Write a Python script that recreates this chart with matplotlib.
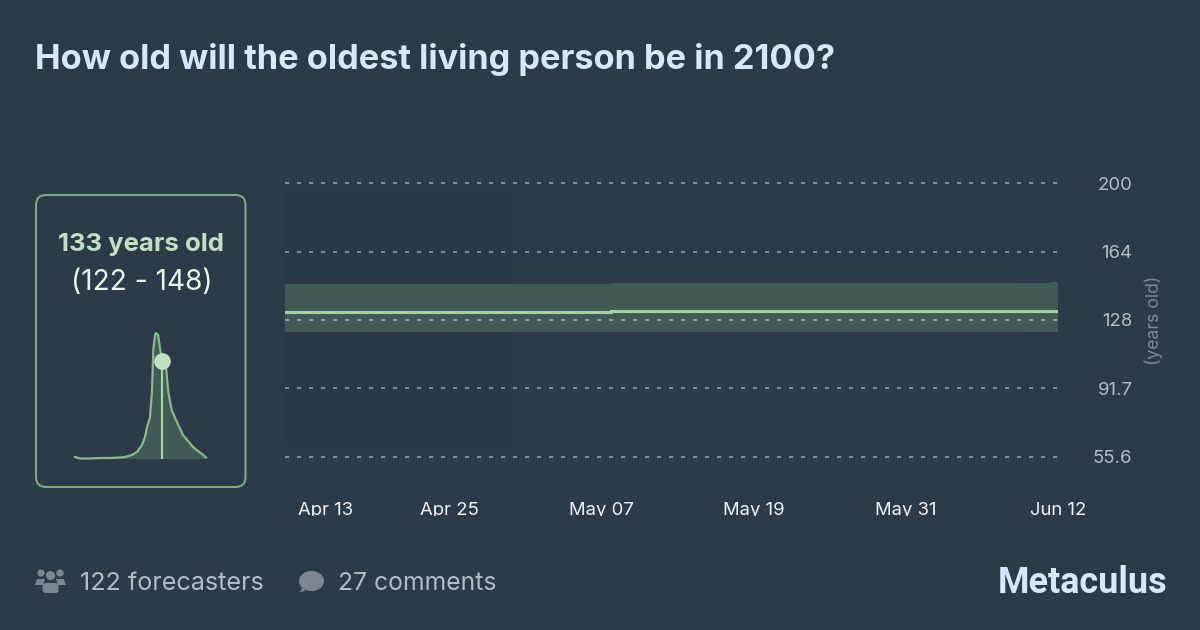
import matplotlib
matplotlib.use("Agg")
import matplotlib.pyplot as plt
from matplotlib.patches import FancyBboxPatch, Circle, Ellipse, Polygon
from matplotlib.transforms import Bbox, ScaledTranslation
from datetime import datetime

title = "How old will the oldest living person be in 2100?"
point_label = "133 years old"
range_label = "(122 - 148)"
forecasters = "122 forecasters"
comments = "27 comments"
brand = "Metaculus"
y_unit = "(years old)"

step_dates = ["2024-04-12 00:00", "2024-05-07 18:00", "2024-06-11 10:00", "2024-06-12 00:00"]
median = [131.9, 132.4, 132.4, 132.4]
lower = [121.3, 121.6, 121.6, 121.6]
upper = [147.0, 147.5, 148.1, 148.1]
tick_dates = ["2024-04-13", "2024-04-25", "2024-05-07", "2024-05-19", "2024-05-31", "2024-06-12"]
tick_names = ["Apr 13", "Apr 25", "May 07", "May 19", "May 31", "Jun 12"]
y_ticks = [55.6, 91.7, 127.8, 163.9, 200]
y_names = ["55.6", "91.7", "128", "164", "200"]

dens_pos = [0, .038, .115, .191, .267, .344, .382, .435, .473, .511, .534, .55, .573, .588, .598,
            .611, .618, .634, .654, .672, .695, .713, .738, .771, .824, .863, .901, .939, .969, 1.0]
dens_val = [2, .5, .5, 1, 1, 1.5, 2, 4, 7, 14, 22, 32, 42, 69, 109,
            124, 126, 124, 106, 98, 92, 66, 49, 39, 24, 18, 12, 8, 5, 1.5]
point_pos = 0.664
point_val = 98.0

BG = "#2d3a48"
BAND = "#415a55"
LINE = "#a5d2a5"
LINE_D = "#8cb78f"
LIGHT = "#d7e8fa"
MINT = "#c3dfc3"
GREY = "#b4bbc2"

W, H = 1200, 630
plt.rcParams["font.family"] = ["Inter", "Noto Sans", "DejaVu Sans"]
fig = plt.figure(figsize=(W / 100, H / 100), dpi=100, facecolor=BG)

def px(x0, y0, x1, y1):
    return [x0 / W, 1 - y1 / H, (x1 - x0) / W, (y1 - y0) / H]

def fs(p):
    return p * 0.72

ov = fig.add_axes([0, 0, 1, 1], zorder=0)
ov.set_xlim(0, W)
ov.set_ylim(H, 0)
ov.axis("off")

ov.text(35, 59, title, fontsize=fs(34.3), fontweight="bold", color=LIGHT, va="center", ha="left")

ov.add_patch(FancyBboxPatch((36, 195), 209.5, 292, boxstyle="round,pad=0,rounding_size=10",
                            fc="none", ec="#7fa886", lw=1.5))
ov.text(141, 244, point_label, fontsize=fs(25.7), fontweight="bold", color=MINT, ha="center", va="center")
ov.text(141.5, 282, range_label, fontsize=fs(28), color="#e9f5ea", ha="center", va="center")

ov.text(80, 583, forecasters, fontsize=fs(25.2), color=GREY, ha="left", va="center")
ov.text(338, 583, comments, fontsize=fs(24.7), color=GREY, ha="left", va="center")
ov.text(1167, 583, brand, fontsize=fs(36), fontweight="bold", color=LIGHT, ha="right", va="center",
        family=["Roboto", "DejaVu Sans"])
IC = "#7d868f"
for cx, cy, r in [(41, 573, 3.6), (60, 573, 3.6), (50.5, 575.5, 4.6)]:
    ov.add_patch(Circle((cx, cy), r, fc=IC, ec="none"))
ov.add_patch(Polygon([(35, 585), (37, 579), (45, 579), (43, 585)], fc=IC, ec="none"))
ov.add_patch(Polygon([(66, 585), (64, 579), (56, 579), (58, 585)], fc=IC, ec="none"))
ov.add_patch(FancyBboxPatch((42.5, 583), 16, 10, boxstyle="round,pad=0,rounding_size=3", fc=IC, ec="none"))
ov.add_patch(Ellipse((311.5, 581), 25, 20, fc=IC, ec="none"))
ov.add_patch(Polygon([(303, 586), (305, 591), (299, 592.5), (302, 589)], fc=IC, ec="none"))

ax = fig.add_axes(px(285, 180, 1058, 460), zorder=1)
ax.set_facecolor("none")
dates = [datetime.strptime(d, "%Y-%m-%d %H:%M") for d in step_dates]
ticks = [datetime.strptime(d, "%Y-%m-%d") for d in tick_dates]
ax.set_xlim(datetime(2024, 4, 12), datetime(2024, 6, 12))
ax.set_ylim(53.75, 201.85)
for s in ax.spines.values():
    s.set_visible(False)

ax.axvspan(datetime(2024, 4, 12), datetime(2024, 4, 29, 18), ymin=0.05, ymax=0.965, fc="#2b384a", ec="none", zorder=0)
ax.axvspan(datetime(2024, 4, 29, 18), datetime(2024, 6, 12), ymin=0.70, ymax=0.965, fc="#2c3949", ec="none", zorder=0)
ax.axvspan(datetime(2024, 6, 8, 18), datetime(2024, 6, 12), ymin=0.05, ymax=0.70, fc="#2c3949", ec="none", zorder=0)

ax.fill_between(dates, lower, upper, step="post", fc=BAND, ec="none", zorder=2)
ax.set_yticks(y_ticks, y_names)
ax.set_xticks(ticks, tick_names)
ax.yaxis.tick_right()
ax.grid(axis="y", color="#c9d2d6", alpha=0.65, lw=1.2, linestyle=(0, (2.5, 4.7)), zorder=3)
ax.set_axisbelow(False)
ax.step(dates, median, where="post", color=LINE, lw=2.2, zorder=4, solid_joinstyle="miter")
ax.tick_params(axis="both", length=0)
ax.tick_params(axis="y", pad=0, labelsize=fs(18.6), labelcolor=GREY)
ax.tick_params(axis="x", pad=30.5, labelsize=fs(18.5), labelcolor="#eef2f5")
off = ScaledTranslation(74.5 / 100, 0, fig.dpi_scale_trans)
for lab in ax.get_yticklabels():
    lab.set_ha("right")
    lab.set_transform(lab.get_transform() + off)
clip = Bbox([[0, H - 516], [W, H - 480]])
for i, lab in enumerate(ax.get_xticklabels()):
    lab.set_clip_box(clip)
    lab.set_clip_on(True)
    if i == 0:
        lab.set_ha("left")
ov.text(1154, 320, y_unit, rotation=90, fontsize=fs(17.6), color="#7f8891", ha="center", va="center")

dx = fig.add_axes(px(75, 333, 206, 459), zorder=1)
dx.set_facecolor("none")
dx.axis("off")
dx.set_xlim(0, 1)
dx.set_ylim(0, 126)
dx.fill_between(dens_pos, 0, dens_val, fc=BAND, ec="none", zorder=1)
dx.plot(dens_pos, dens_val, color=LINE_D, lw=1.6, zorder=2, clip_on=False)
dx.plot([point_pos, point_pos], [0, point_val], color=LINE, lw=1.6, zorder=3)
dx.plot([point_pos], [point_val], "o", color=MINT, ms=12, mec="none", zorder=4, clip_on=False)

fig.savefig("out.png", dpi=100, facecolor=BG)
